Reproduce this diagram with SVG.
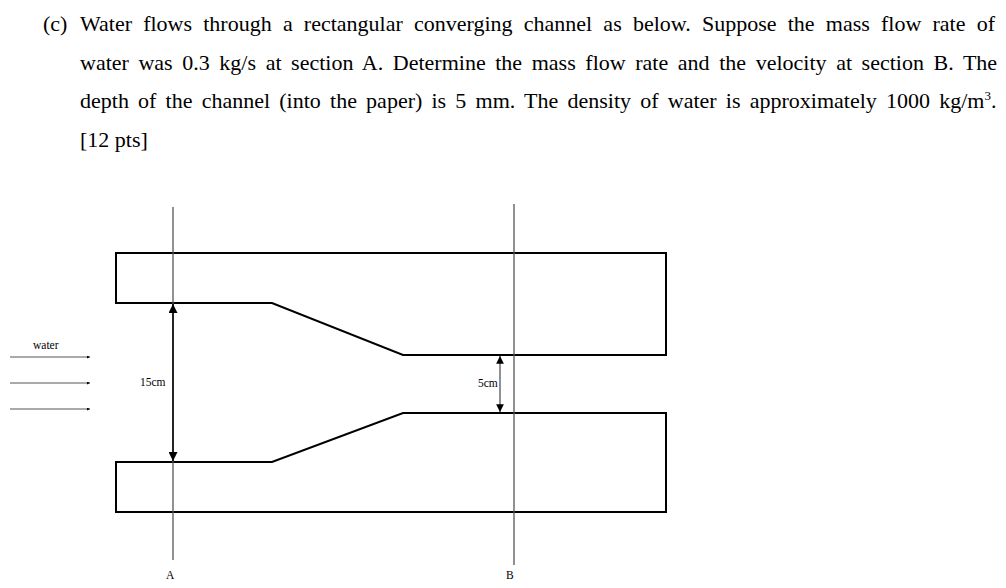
<svg xmlns="http://www.w3.org/2000/svg" width="1006" height="588" viewBox="0 0 1006 588">
<style>
.t{font-family:"Liberation Serif",serif;font-size:22px;fill:#000}
.s{font-family:"Liberation Serif",serif;font-size:11.5px;fill:#000}
.w{fill:none;stroke:#000;stroke-width:2}
.l{stroke:#555;stroke-width:1.3;fill:none}
.d{stroke:#000;stroke-width:1.5}
</style>
<defs>
<marker id="ah" viewBox="0 0 10 10" refX="10" refY="5" markerWidth="6" markerHeight="6" orient="auto-start-reverse"><path d="M0,0L10,5L0,10z" fill="#000"/></marker>
<marker id="sm" viewBox="0 0 10 10" refX="10" refY="5" markerWidth="3" markerHeight="3" orient="auto"><path d="M0,0L10,5L0,10z" fill="#000"/></marker>
</defs>
<rect width="1006" height="588" fill="#fff"/>
<g id="text">
<text class="t" x="43" y="31">(c)</text>
<text class="t" x="80" y="31" word-spacing="5.7">Water flows through a rectangular converging channel as below. Suppose the mass flow rate of</text>
<text class="t" x="80" y="70" word-spacing="4.1">water was 0.3 kg/s at section A. Determine the mass flow rate and the velocity at section B. The</text>
<text class="t" x="80" y="108" word-spacing="3.7">depth of the channel (into the paper) is 5 mm. The density of water is approximately 1000 kg/m<tspan font-size="13" dy="-8">3</tspan><tspan dy="8">.</tspan></text>
<text class="t" x="80" y="147">[12 pts]</text>
</g>
<g id="top-wall"><path class="w" d="M116,253H666V355H403L272,303H116Z"/></g>
<g id="bottom-wall"><path class="w" d="M116,462H272L403,413H666V512H116Z"/></g>
<g id="connectors">
<line class="l" x1="173" y1="207" x2="173" y2="560"/>
<line class="l" x1="514" y1="204" x2="514" y2="565"/>
<line class="d" x1="173" y1="304" x2="173" y2="461" marker-start="url(#ah)" marker-end="url(#ah)"/>
<line class="l" x1="500" y1="356" x2="500" y2="412" marker-start="url(#ah)" marker-end="url(#ah)"/>
<line x1="10" y1="357" x2="90" y2="357" stroke="#555" stroke-width="1" marker-end="url(#sm)"/>
<line x1="10" y1="383" x2="90" y2="383" stroke="#555" stroke-width="1" marker-end="url(#sm)"/>
<line x1="10" y1="409" x2="90" y2="409" stroke="#555" stroke-width="1" marker-end="url(#sm)"/>
</g>
<g id="labels">
<text class="s" x="33" y="349">water</text>
<text class="s" x="140" y="386">15cm</text>
<text class="s" x="478" y="387">5cm</text>
<text class="s" x="166" y="579" font-size="9">A</text>
<text class="s" x="506" y="579" font-size="9">B</text>
</g>
</svg>
